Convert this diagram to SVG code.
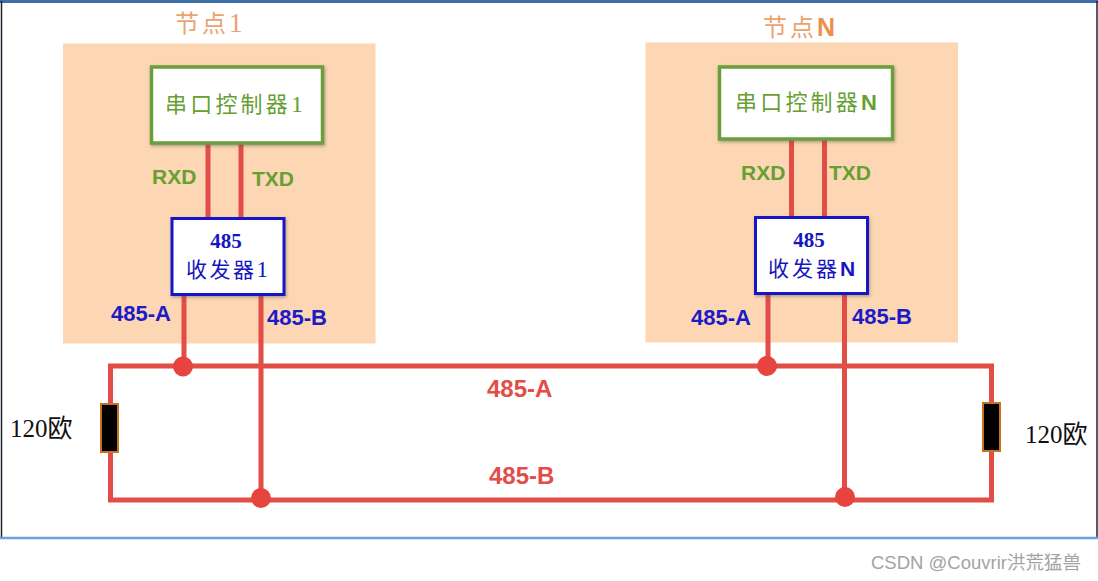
<svg xmlns="http://www.w3.org/2000/svg" width="1098" height="581" viewBox="0 0 1098 581">
<defs><filter id="sh" x="-10%" y="-10%" width="125%" height="125%"><feDropShadow dx="1" dy="1.500" stdDeviation="1.500" flood-color="#555" flood-opacity=".45"/></filter></defs>
<style>
text{font-family:"Liberation Serif","Noto Sans CJK SC",serif}
.sans{font-family:"Liberation Sans","Noto Sans CJK SC",sans-serif;font-weight:700}
.zone{fill:#fdd6b3}
.ctl{fill:#fff;stroke:#6a9f3a;stroke-width:3.500;filter:url(#sh)}
.trx{fill:#fff;stroke:#1212c4;stroke-width:3;filter:url(#sh)}
.w{fill:none;stroke:#e34d48;stroke-width:5}
.dot{fill:#e8443f}
.res{fill:#000;stroke:#c8721e;stroke-width:2}
.title{fill:#eba36e;font-size:24px;letter-spacing:3px}
.g{fill:#66a033;font-size:21px;font-weight:700}
.gs{fill:#66a033;font-size:22px}
.b{fill:#1b1bc8;font-size:22px;font-weight:700}
.bs{fill:#1616c0;font-size:21px}
.r{fill:#e34d48;font-size:24px}
.k{fill:#111;font-size:25px}
</style>
<rect x="0" y="0" width="1098" height="581" fill="#fff"/>
<g id="frame"><path d="M0 1.500H1098" stroke="#3f6fa8" stroke-width="3" fill="none"/><path d="M1.500 1V538.500" stroke="#223" stroke-width="1.500" fill="none"/><path d="M1097 1V538.500" stroke="#223" stroke-width="1.500" fill="none"/><path d="M0 538H1098" stroke="#6a9fe0" stroke-width="2.500" fill="none"/></g>
<g id="node-1-zone"><rect class="zone" x="63" y="43.500" width="312.500" height="300"/><text class="title" x="175" y="32">节点<tspan font-size="27">1</tspan></text></g>
<g id="node-n-zone"><rect class="zone" x="645.500" y="42.500" width="312.500" height="300"/><text class="title" x="763" y="36">节点<tspan class="sans" fill="#ee8e4c" letter-spacing="0" font-size="25">N</tspan></text></g>
<g id="connectors">
<path class="w" d="M208 144V218M241 144V218M184 295V366M261 295V498"/>
<path class="w" d="M791.500 139V217M824.500 139V217M768 294V366M844.500 294V497"/>
<path class="w" d="M108 366H991.500V404M991.500 451V500M994 500H108M110.500 500V366"/>
<circle class="dot" cx="183" cy="366.500" r="10"/><circle class="dot" cx="261" cy="498" r="10"/>
<circle class="dot" cx="767" cy="366" r="10"/><circle class="dot" cx="845" cy="497" r="10"/>
</g>
<g id="controller-1"><rect class="ctl" x="151.500" y="67" width="171" height="76"/><text class="gs" x="165" y="112" letter-spacing="3.200">串口控制器<tspan font-size="24">1</tspan></text></g>
<g id="controller-n"><rect class="ctl" x="719.500" y="67" width="173" height="72"/><text class="gs" x="735" y="110" letter-spacing="3.200">串口控制器<tspan class="sans" letter-spacing="0">N</tspan></text></g>
<g id="transceiver-1"><rect class="trx" x="172" y="218.500" width="112" height="76"/><text class="bs" x="226" y="248" text-anchor="middle" font-weight="700" font-size="24">485</text><text class="bs" x="186" y="277" letter-spacing="2.500">收发器<tspan font-size="23">1</tspan></text></g>
<g id="transceiver-n"><rect class="trx" x="755.500" y="217.500" width="112" height="76"/><text class="bs" x="809" y="247" text-anchor="middle" font-weight="700" font-size="24">485</text><text class="bs" x="768" y="276" letter-spacing="3">收发器<tspan class="sans" letter-spacing="0">N</tspan></text></g>
<g id="labels">
<text class="sans g" x="152" y="184">RXD</text><text class="sans g" x="252" y="186">TXD</text>
<text class="sans g" x="741" y="180">RXD</text><text class="sans g" x="829" y="180">TXD</text>
<text class="sans b" x="111" y="321">485-A</text><text class="sans b" x="267" y="325">485-B</text>
<text class="sans b" x="691" y="325">485-A</text><text class="sans b" x="852" y="324">485-B</text>
<text class="sans r" x="487" y="397">485-A</text><text class="sans r" x="489" y="484">485-B</text>
<text class="k" x="10" y="437">120欧</text><text class="k" x="1025" y="443">120欧</text>
<text x="871" y="569" fill="#a3a3a3" font-size="18.500" style="font-family:'Liberation Sans','Noto Sans CJK SC',sans-serif">CSDN @Couvrir洪荒猛兽</text>
</g>
<g id="resistor-left"><rect class="res" x="101" y="404" width="17" height="48"/></g>
<g id="resistor-right"><rect class="res" x="983" y="403" width="17" height="48"/></g>
</svg>
